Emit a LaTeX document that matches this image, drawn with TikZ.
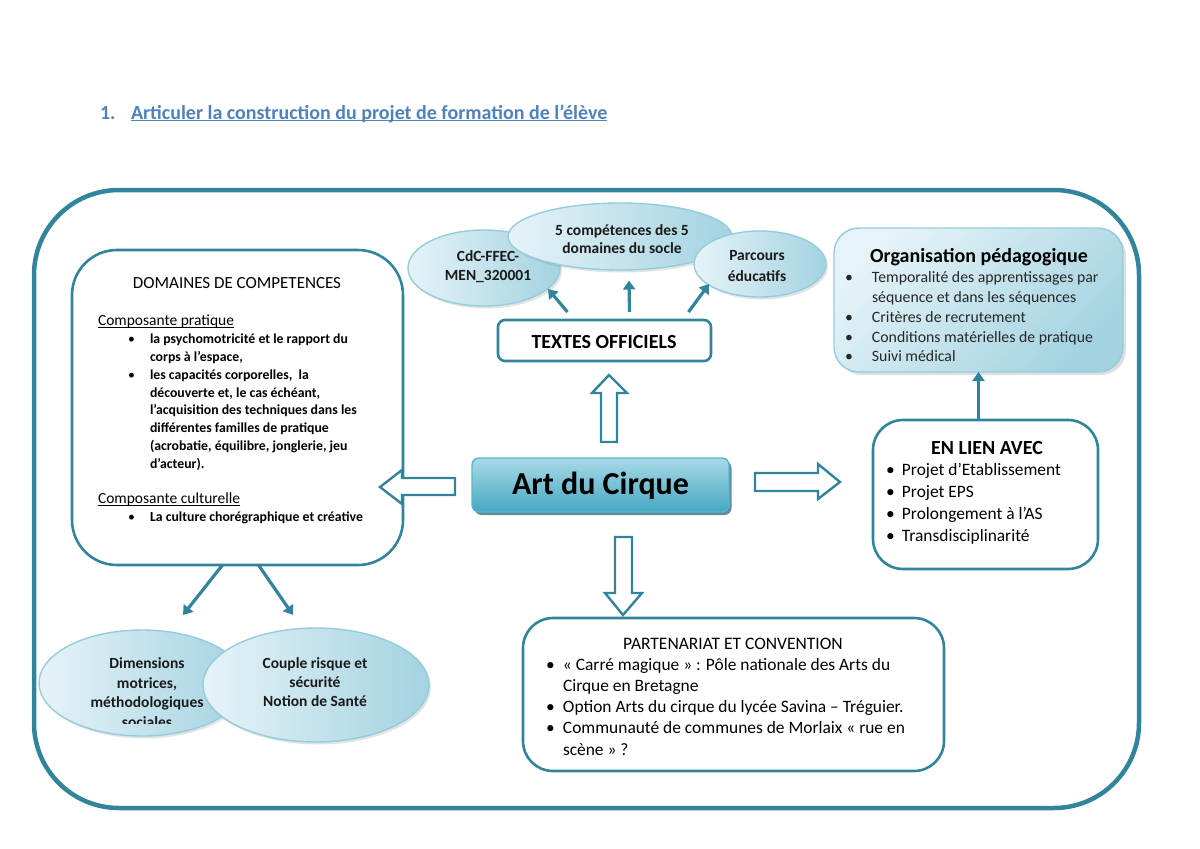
\documentclass[tikz,border=0pt]{standalone}
\usepackage{fontspec}
\setmainfont{Carlito}
\usetikzlibrary{arrows.meta,shadows,calc,shapes.geometric}
\newcommand\myul[2]{\setbox0\hbox{#2}\rlap{\rule[-2.2pt]{\wd0}{#1}}\box0}
\definecolor{tealc}{HTML}{31849B}
\definecolor{ellA}{HTML}{E6F3F8}
\definecolor{ellB}{HTML}{A3D3E1}
\definecolor{ellD}{HTML}{93CDDD}
\definecolor{artA}{HTML}{A8DAE7}
\definecolor{artB}{HTML}{45A7C2}
\definecolor{artD}{HTML}{5AB5CC}
\definecolor{titleblue}{HTML}{4F81BD}
\definecolor{orgtext}{HTML}{262626}
\definecolor{elltext}{HTML}{1A1A1A}
\begin{document}
\begin{tikzpicture}[x=1pt,y=-1pt,
  every node/.style={outer sep=0pt},
  frame/.style={draw=tealc, line width=2.6pt, fill=white, inner sep=0pt, anchor=north west},
  bubble/.style={ellipse, draw=ellD, line width=1.4pt, left color=ellA, right color=ellB, inner sep=0pt,
    drop shadow={shadow xshift=2pt, shadow yshift=-2.5pt, opacity=0.22}},
  bubbletext/.style={align=center, text=elltext, font=\fontsize{15.5}{19.5}\selectfont\bfseries},
  conn/.style={draw=tealc, line width=3.2pt, -{Triangle[length=9pt,width=12pt]}},
  blockarrow/.style={draw=tealc, fill=white, line width=2.4pt, line join=miter},
  listtext/.style={anchor=north west, inner sep=0pt}
]
\useasboundingbox (0,0) rectangle (1200,849);

% title
\node[anchor=base west, inner sep=0pt, text=titleblue, font=\fontsize{20}{24}\selectfont\bfseries] (num) at (100,119) {1.};
\node[anchor=base west, inner sep=0pt, text=titleblue, font=\fontsize{20}{24}\selectfont\bfseries] (title) at (131,119) {\myul{1.3pt}{Articuler la construction du projet de formation de l’élève}};

% outer frame
\node[draw=tealc, line width=4.5pt, rounded corners=85pt, minimum width=1105pt, minimum height=618pt, anchor=north west, inner sep=0pt] (outer) at (34,190) {};

% Domaines box
\node[frame, rounded corners=45pt, minimum width=331pt, minimum height=315pt] (dom) at (72,250) {};
\node[font=\fontsize{17}{20}\selectfont] (domt) at (237,283) {DOMAINES DE COMPETENCES};
\node[listtext, font=\fontsize{13.8}{17.8}\selectfont] (doml) at (98,313.5) {\begin{tabular}{@{}p{30pt}@{}p{22pt}@{}l@{}}
\multicolumn{3}{@{}l@{}}{\fontsize{15.5}{17.8}\selectfont\myul{0.9pt}{Composante pratique}}\\
 & \textbullet & \textbf{la psychomotricité et le rapport du}\\
 & & \textbf{corps à l’espace,}\\
 & \textbullet & \textbf{les capacités corporelles,\ \ la}\\
 & & \textbf{découverte et, le cas échéant,}\\
 & & \textbf{l’acquisition des techniques dans les}\\
 & & \textbf{différentes familles de pratique}\\
 & & \textbf{(acrobatie, équilibre, jonglerie, jeu}\\
 & & \textbf{d’acteur).}\\
 & & \\
\multicolumn{3}{@{}l@{}}{\fontsize{15.5}{17.8}\selectfont\myul{0.9pt}{Composante culturelle}}\\
 & \textbullet & \textbf{La culture chorégraphique et créative}
\end{tabular}};

% top bubbles
\node[bubble, minimum width=152pt, minimum height=76pt] (cdc) at (484,268) {};
\node[bubbletext] (cdct) at (488,266.5) {CdC-FFEC-\\MEN\_320001};
\node[bubble, minimum width=224pt, minimum height=67pt] (comp) at (620,236.5) {};
\node[bubbletext, font=\fontsize{15.5}{18}\selectfont\bfseries] (compt) at (622,239) {5 compétences des 5\\domaines du socle};
\node[bubble, minimum width=132pt, minimum height=66pt] (parc) at (760,264) {};
\node[bubbletext, font=\fontsize{15.5}{21}\selectfont\bfseries] (parct) at (757,266.5) {Parcours\\éducatifs};

% Textes officiels
\node[frame, rounded corners=7pt, minimum width=213pt, minimum height=41pt] (txt) at (498,320) {};
\node[font=\fontsize{20}{24}\selectfont\bfseries] (txtt) at (604,342) {TEXTES OFFICIELS};
\draw[conn] ($(txt.north)+(-37,-8)$) -- ($(cdc.center)+(64,21)$);
\draw[conn] ($(txt.north)+(25,-8)$) -- ($(comp.south)+(9,10.5)$);
\draw[conn] ($(txt.north)+(84,-8)$) -- ($(parc.center)+(-51,20)$);

% Organisation
\node[frame, draw=ellD, line width=1.4pt, rounded corners=25pt, minimum width=289pt, minimum height=144pt,
  top color=ellA, bottom color=ellB, shading angle=45,
  drop shadow={shadow xshift=3pt, shadow yshift=-3pt, opacity=0.25}] (org) at (834,228) {};
\node[anchor=base, font=\fontsize{20}{24}\selectfont\bfseries] (orgt) at (979,262) {Organisation pédagogique};
\node[listtext, text=orgtext, font=\fontsize{15.8}{19.7}\selectfont] (orgl) at (845,269.2) {\begin{tabular}{@{}p{27pt}@{}l@{}}
\textbullet & Temporalité des apprentissages par\\
 & séquence et dans les séquences\\
\textbullet & Critères de recrutement\\
\textbullet & Conditions matérielles de pratique\\
\textbullet & Suivi médical
\end{tabular}};

% En lien avec
\node[frame, rounded corners=30pt, minimum width=225pt, minimum height=149pt] (len) at (873,420) {};
\node[anchor=base, font=\fontsize{20}{24}\selectfont\bfseries] (lent) at (987,454) {EN LIEN AVEC};
\node[listtext, font=\fontsize{17.4}{22}\selectfont] (lenl) at (886,459.6) {\begin{tabular}{@{}p{16pt}@{}l@{}}
\textbullet & Projet d’Etablissement\\
\textbullet & Projet EPS\\
\textbullet & Prolongement à l’AS\\
\textbullet & Transdisciplinarité
\end{tabular}};
\draw[conn] (len.north -| org.south) -- (org.south);

% Art du cirque
\node[anchor=north west, inner sep=0pt, rounded corners=7pt, minimum width=257pt, minimum height=54pt,
  draw=artD, line width=1.4pt, top color=artA, bottom color=artB,
  drop shadow={shadow xshift=2.5pt, shadow yshift=-3pt, fill=tealc!70!black, opacity=0.7}] (art) at (472,458) {};
\node[font=\fontsize{32}{36}\selectfont\bfseries] (artt) at (600.5,486) {Art du Cirque};

% block arrows
\draw[blockarrow] (455,478) -- (402,478) -- (402,470) -- (380,487) -- (402,504) -- (402,495) -- (455,495) -- cycle;
\draw[blockarrow] (755,473) -- (818,473) -- (818,464) -- (840,482) -- (818,499) -- (818,491) -- (755,491) -- cycle;
\draw[blockarrow] (601,442) -- (601,393) -- (592,393) -- (609,375) -- (627,393) -- (617,393) -- (617,442) -- cycle;
\draw[blockarrow] (615,537) -- (632,537) -- (632,593) -- (642,593) -- (623,615) -- (605,593) -- (615,593) -- cycle;

% Partenariat
\node[frame, rounded corners=30pt, minimum width=421pt, minimum height=153pt] (part) at (523,618) {};
\node[anchor=base, font=\fontsize{17.5}{21}\selectfont] (partt) at (733,649) {PARTENARIAT ET CONVENTION};
\node[listtext, font=\fontsize{17.4}{21.3}\selectfont] (partl) at (546,655.1) {\begin{tabular}{@{}p{17pt}@{}l@{}}
\textbullet & «~Carré magique~» : Pôle nationale des Arts du\\
 & Cirque en Bretagne\\
\textbullet & Option Arts du cirque du lycée Savina – Tréguier.\\
\textbullet & Communauté de communes de Morlaix «~rue en\\
 & scène~» ?
\end{tabular}};

% bottom bubbles
\node[bubble, minimum width=206pt, minimum height=106pt] (dim) at (142,683) {};
\begin{scope}
\clip (30,600) rectangle (260,723.5);
\node[bubbletext, font=\fontsize{15.5}{19.7}\selectfont\bfseries] (dimt) at (147,692.5) {Dimensions\\motrices,\\méthodologiques\\sociales};
\end{scope}
\node[bubble, minimum width=226pt, minimum height=114pt] (coup) at (316,685) {};
\node[bubbletext, font=\fontsize{15.5}{19}\selectfont\bfseries] (coupt) at (315,682) {Couple risque et\\sécurité\\Notion de Santé};
\draw[conn] ($(dom.south)+(-15,0)$) -- ($(dim.center)+(41,-68)$);
\draw[conn] ($(dom.south)+(21,0)$) -- ($(coup.center)+(-23,-70)$);
\end{tikzpicture}
\end{document}
